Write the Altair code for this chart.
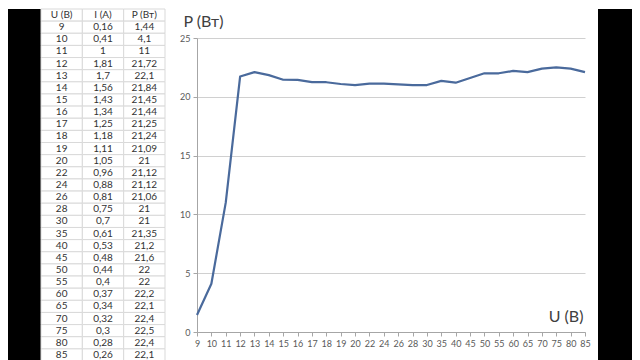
import altair as alt
import pandas as pd

# ---- data ----
U_VALUES = [9, 10, 11, 12, 13, 14, 15, 16, 17, 18, 19, 20, 22, 24, 26, 28, 30,
            35, 40, 45, 50, 55, 60, 65, 70, 75, 80, 85]
I_VALUES = [0.16, 0.41, 1, 1.81, 1.7, 1.56, 1.43, 1.34, 1.25, 1.18, 1.11, 1.05,
            0.96, 0.88, 0.81, 0.75, 0.7, 0.61, 0.53, 0.48, 0.44, 0.4, 0.37, 0.34,
            0.32, 0.3, 0.28, 0.26]
P_VALUES = [1.44, 4.1, 11, 21.72, 22.1, 21.84, 21.45, 21.44, 21.25, 21.24, 21.09,
            21, 21.12, 21.12, 21.06, 21, 21, 21.35, 21.2, 21.6, 22, 22, 22.2, 22.1,
            22.4, 22.5, 22.4, 22.1]
HEADERS = ["U (В)", "I (А)", "P (Вт)"]
Y_TICKS = [0, 5, 10, 15, 20, 25]

FONT = "Lato"


def fmt(v):
    return f"{v:g}".replace(".", ",")


# ---- table data ----
rows = []
for h in HEADERS:
    rows.append({"row": 0, "col": h, "txt": h})
for ri, (u, i, p) in enumerate(zip(U_VALUES, I_VALUES, P_VALUES), start=1):
    for h, v in zip(HEADERS, (u, i, p)):
        rows.append({"row": ri, "col": h, "txt": fmt(v)})
table_df = pd.DataFrame(rows)

line_df = pd.DataFrame({"U": U_VALUES, "P": P_VALUES})
dummy = pd.DataFrame({"a": [0]})

TOTAL_H = 352
TOP_GAP = 29      # from top of panel to the "25" gridline
PLOT_H = 294      # height of the value range 0..25


def strip(w, color):
    return alt.Chart(dummy).mark_point(opacity=0).properties(
        width=w, height=TOTAL_H,
        view=alt.ViewBackground(fill=color, stroke=color, strokeWidth=0),
    )


def spacer(w, h):
    return alt.Chart(dummy).mark_point(opacity=0).properties(width=w, height=h)


tx = alt.X("col:N", sort=HEADERS, scale=alt.Scale(type="band", paddingInner=0, paddingOuter=0), axis=None)
ty = alt.Y("row:O", scale=alt.Scale(type="band", paddingInner=0, paddingOuter=0), axis=None)

cells = alt.Chart(table_df).mark_rect(fill="white", stroke="#d9d9d9", strokeWidth=1).encode(x=tx, y=ty)
texts = alt.Chart(table_df).mark_text(font=FONT, fontSize=10, color="#333333").encode(
    x=tx, y=ty, text="txt:N")
table = alt.layer(cells, texts).properties(width=124, height=TOTAL_H)

line = alt.Chart(line_df).mark_line(
    color="#4a6a9c", strokeWidth=2.2, interpolate="linear", strokeJoin="round"
).encode(
    x=alt.X("U:O", sort=None,
            scale=alt.Scale(type="point", padding=0),
            axis=alt.Axis(labelAngle=0, grid=False, tickSize=4, labelPadding=3,
                          offset=-(TOTAL_H - TOP_GAP - PLOT_H),
                          labelFont=FONT, labelFontSize=9, labelColor="#595959",
                          domainColor="#a6a6a6", tickColor="#a6a6a6",
                          title="U (В)", titleFont=FONT, titleFontSize=16,
                          titleFontWeight="normal", titleColor="#404040",
                          titleAlign="right", titleBaseline="alphabetic",
                          titleX=386, titleY=-11)),
    y=alt.Y("P:Q",
            scale=alt.Scale(domain=[0, 25], nice=False,
                            range=[TOP_GAP + PLOT_H, TOP_GAP]),
            axis=alt.Axis(values=Y_TICKS, grid=True, gridColor="#d0d0d0",
                          tickSize=4, labelPadding=3, labelFont=FONT,
                          labelFontSize=9, labelColor="#595959",
                          domainColor="#a6a6a6", tickColor="#a6a6a6",
                          title="P (Вт)", titleFont=FONT, titleFontSize=16,
                          titleFontWeight="normal", titleColor="#404040",
                          titleAngle=0, titleAlign="left",
                          titleBaseline="alphabetic", titleX=-14,
                          titleY=TOP_GAP - 12)),
).properties(width=388, height=TOTAL_H)

chart = alt.hconcat(
    strip(33, "black"),
    table,
    spacer(32, TOTAL_H),
    line,
    spacer(13, TOTAL_H),
    strip(34, "black"),
    spacing=0,
    bounds="flush",
).properties(
    padding=0, background="white"
).configure_view(stroke=None)

chart.save("out.html", embed_options={"renderer": "svg", "actions": False})
